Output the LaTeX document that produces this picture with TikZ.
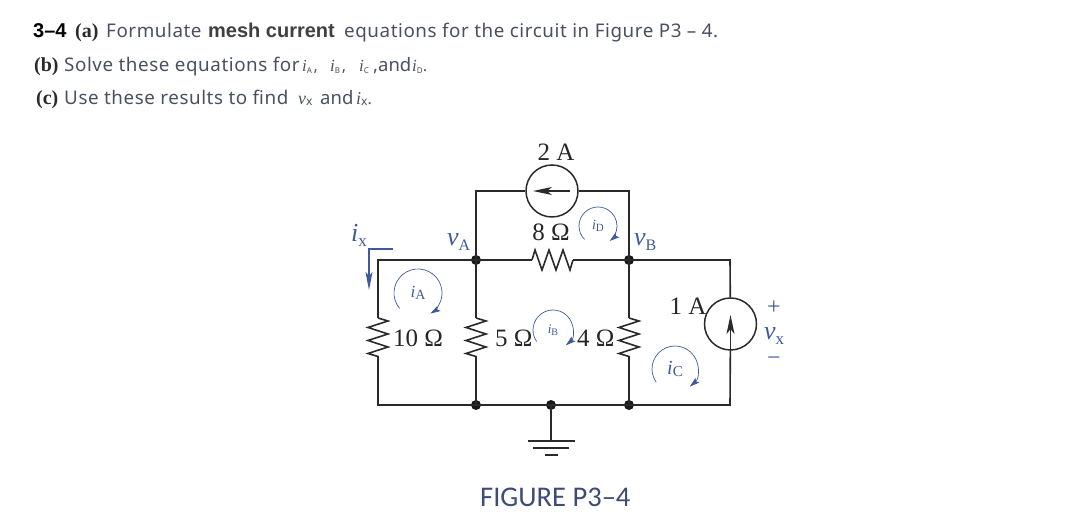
\documentclass[tikz,border=0pt]{standalone}
\usepackage{fontspec}
\usetikzlibrary{arrows.meta}
\setmainfont{Liberation Serif}
\newfontfamily\hd[LetterSpace=3]{Noto Sans}
\newfontfamily\hdb{Noto Sans}
\newfontfamily\hdbold{Liberation Sans}
\newfontfamily\figf{Carlito}
\definecolor{wire}{HTML}{2A2A2C}
\definecolor{lab}{HTML}{3F5A9A}
\definecolor{txt}{HTML}{4A5060}
\definecolor{figc}{HTML}{3E4A78}
\newcommand{\fs}[1]{\fontsize{#1}{#1}\selectfont}
\newcommand{\lowsub}[2]{\raisebox{-#1pt}{\upshape #2}}
\newcommand{\cell}[2]{\makebox[#1pt][l]{#2}}
\newcommand{\qm}[1]{{\color{txt}\fs{17}\itshape i\raisebox{-1.5pt}{\hdb\upshape\fs{8}#1}}}
\newcommand{\hdtxt}[1]{{\hd\fs{18.8}#1}}
\newcommand{\hdnar}[1]{{\hdb\fs{18.5}#1}}
\newcommand{\sr}[1]{{\bfseries\fs{20}\color{wire}#1}}
\tikzset{
  wireline/.style={draw=wire,line width=1.6pt},
  dot/.style={circle,fill=black!90,inner sep=0pt,minimum size=10pt},
  src/.style={circle,draw=wire,line width=1.5pt,fill=white,minimum size=52pt,inner sep=0pt},
  srcarrow/.style={draw=wire,line width=1.3pt,-{Stealth[length=19pt,width=8pt,inset=5pt]}},
  val/.style={inner sep=0pt,text=black!85,font=\fs{25}},
  nlab/.style={inner sep=0pt,text=lab,font=\fs{26}\itshape},
  meshc/.style={inner sep=0pt,text=lab},
  mesharc/.style={draw=lab,line width=0.7pt,-{Stealth[length=10pt,width=6pt,inset=2pt]}},
  head/.style={anchor=base west,inner sep=0pt,text=txt},
  resH/.style={to path={-- ++(3,10) -- ++(7,-20) -- ++(7,20) -- ++(7,-20) -- ++(7,20) -- ++(7,-20) -- ++(3,10) -- (\tikztotarget)}},
  resV/.style={to path={-- ++(10,-3) -- ++(-20,-6.5) -- ++(20,-6.5) -- ++(-20,-6.5) -- ++(20,-6.5) -- ++(-20,-6.5) -- ++(10,-3) -- (\tikztotarget)}}
}
\begin{document}
\begin{tikzpicture}[x=1pt,y=1pt]
\useasboundingbox (0,0) rectangle (1069,529);
% header
\node[head] (l1) at (33,491) {\cell{42}{{\hdbold\bfseries\fs{20}\color{black}3–4}}\cell{31}{\sr{(a)}}\cell{102}{\hdtxt{Formulate}}\cell{136}{{\hdbold\bfseries\fs{20}\color{wire!90}mesh current}}\hdtxt{equations for the circuit in Figure P3 – 4.}};
\node[head] (l2) at (34,457) {\cell{30}{\sr{(b)}}\cell{238}{\hdtxt{Solve these equations for}}\cell{28}{\qm{A}\,{\hd\fs{16},}}\cell{29}{\qm{B}\,{\hd\fs{16},}}\cell{14}{\qm{C}}\cell{39}{\hdnar{,and}}\qm{D}{\hd\fs{16}.}};
\node[head] (l3) at (36,424) {\cell{28}{\sr{(c)}}\cell{234}{\hdtxt{Use these results to find}}\cell{22}{{\fs{18}\itshape v\raisebox{-1pt}{\hdb\upshape\fs{12}x}}}\cell{36}{\hdnar{and}}{\fs{18}\itshape i\raisebox{-1pt}{\hdb\upshape\fs{12}x}}{\hd\fs{16}.}};
% junctions
\coordinate (LT) at (378,269);
\coordinate (LB) at (378,124);
\coordinate (TL) at (476,338);
\coordinate (TR) at (629,338);
\coordinate (RT) at (730,269);
\coordinate (RB) at (730,124);
\coordinate (H1) at (532,269);
\coordinate (H2) at (573,269);
\coordinate (R10a) at (378,211);
\coordinate (R10b) at (378,172);
\coordinate (R5a) at (476,211);
\coordinate (R5b) at (476,172);
\coordinate (R4a) at (629,211);
\coordinate (R4b) at (629,172);
\node[dot] (A) at (476,269) {};
\node[dot] (B) at (629,269) {};
\node[dot] (C) at (476,124) {};
\node[dot] (G) at (551,124) {};
\node[dot] (D) at (629,124) {};
\node[src] (S2) at (552,338) {};
\node[src] (S1) at (730.5,205) {};
% wires
\draw[wireline] (A.center) -- (TL) -- (S2);
\draw[wireline] (S2) -- (TR) -- (B.center);
\draw[wireline] (A.center) -- (H1);
\draw[wireline] (H1) to[resH] (H2);
\draw[wireline] (H2) -- (B.center);
\draw[wireline] (A.center) -- (LT) -- (R10a);
\draw[wireline] (R10a) to[resV] (R10b);
\draw[wireline] (R10b) -- (LB) -- (C.center);
\draw[wireline] (A.center) -- (R5a);
\draw[wireline] (R5a) to[resV] (R5b);
\draw[wireline] (R5b) -- (C.center);
\draw[wireline] (B.center) -- (R4a);
\draw[wireline] (R4a) to[resV] (R4b);
\draw[wireline] (R4b) -- (D.center);
\draw[wireline] (C.center) -- (D.center);
\draw[wireline] (B.center) -- (RT) -- (S1);
\draw[wireline] (S1) -- (RB) -- (D.center);
% source arrows
\coordinate (S2e) at (570,338);
\coordinate (S2w) at (533,338);
\coordinate (S1s) at (730.5,178);
\coordinate (S1n) at (730.5,214);
\draw[srcarrow] (S2e) -- (S2w);
\draw[srcarrow] (S1s) -- (S1n);
% ground
\coordinate (g1) at (551,88);
\draw[wireline] (G.center) -- (g1);
\draw[wireline] (528,88) -- (575,88);
\draw[wireline] (533,81) -- (569,81);
\draw[wireline] (545,74) -- (558,74);
% ix arrow
\coordinate (ix1) at (393,280);
\coordinate (ix2) at (369,280);
\coordinate (ix3) at (369,239);
\draw[draw=lab,line width=1.4pt,-{Stealth[length=18pt,width=7pt,inset=4pt]}] (ix1) -- (ix2) -- (ix3);
% values
\node[val] (t2A) at (556,377) {2 A};
\node[val] (t8) at (551,297) {8 Ω};
\node[val,anchor=west] (t10) at (393,191) {10 Ω};
\node[val,anchor=west] (t5) at (495,191) {5 Ω};
\node[val,anchor=west] (t4) at (577,191) {4 Ω};
\node[val] (t1A) at (688,223) {1 A};
% node labels
\node[nlab,anchor=base west] (tix) at (351,287) {i\lowsub{5}{\fs{17}x}};
\node[nlab,anchor=base west] (tva) at (447,283) {v\lowsub{4.5}{\fs{16}A}};
\node[nlab,anchor=base west] (tvb) at (634,283) {v\lowsub{4.5}{\fs{16}B}};
\node[nlab,anchor=base west] (tvx) at (764,189) {v\lowsub{5}{\fs{17}x}};
\node[inner sep=0pt,text=lab,font=\fs{24}] (tp) at (774,221) {+};
\node[inner sep=0pt,text=lab,font=\fs{24}] (tm) at (774,168) {−};
% mesh
\node[meshc,font=\fs{17}\itshape] (iA) at (418,236) {i\lowsub{2}{\fs{14}A}};
\node[meshc,font=\fs{13}\itshape] (iB) at (553,199) {i\lowsub{1.5}{\fs{10}B}};
\node[meshc,font=\fs{20}\itshape] (iC) at (675,160) {i\lowsub{2}{\fs{15}C}};
\node[meshc,font=\fs{14}\itshape] (iD) at (598,303) {i\lowsub{1.5}{\fs{11}D}};
\draw[mesharc] ([shift={(220:24)}]iA.center) arc[start angle=220,end angle=-59,radius=24];
\draw[mesharc] ([shift={(215:20)}]iB.center) arc[start angle=215,end angle=-50,radius=20];
\draw[mesharc] ([shift={(215:23)}]iC.center) arc[start angle=215,end angle=-50,radius=23];
\draw[mesharc] ([shift={(225:19)}]iD.center) arc[start angle=225,end angle=-52,radius=19];
% caption
\node[inner sep=0pt,anchor=base west,text=figc,font=\figf\fs{28.5}] (cap) at (480,22) {FIGURE P3–4};
\end{tikzpicture}
\end{document}
